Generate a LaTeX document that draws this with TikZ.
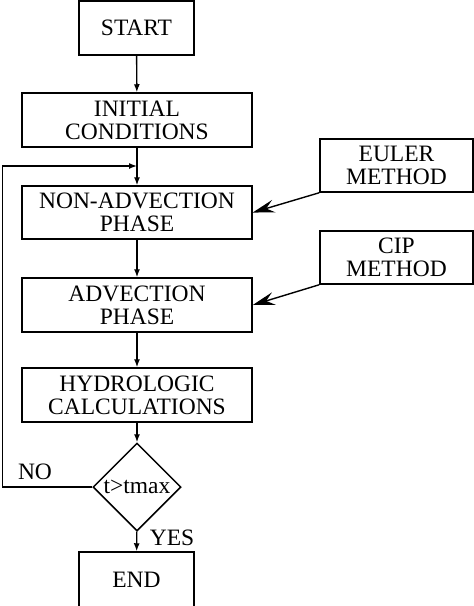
\documentclass[tikz,border=0pt]{standalone}
\usepackage{fontspec}
\setmainfont{Liberation Serif}
\usetikzlibrary{shapes.geometric,arrows.meta}

\begin{document}
\begin{tikzpicture}[x=1pt, y=-1pt, >={Latex[length=8pt,width=6pt]},
	box/.style={rectangle, draw=black, line width=1.5pt, align=center, inner sep=0pt, font=\fontsize{23.5}{23}\selectfont},
	decision/.style={diamond, draw=black, line width=1.5pt, inner sep=0pt, minimum width=88pt, minimum height=88pt, font=\fontsize{23.5}{23}\selectfont},
	flow/.style={black, line width=1.4pt}]

\useasboundingbox (0,0) rectangle (474,606);

\node at (136.5,28) [box, minimum width=115pt, minimum height=54pt] (start) {START};
\node at (137,120) [box, minimum width=230pt, minimum height=54pt] (init) {INITIAL\\CONDITIONS};
\node at (137,212.5) [box, minimum width=230pt, minimum height=53pt] (nonadv) {NON-ADVECTION\\PHASE};
\node at (137,305) [box, minimum width=230pt, minimum height=54pt] (adv) {ADVECTION\\PHASE};
\node at (137,395) [box, minimum width=230pt, minimum height=54pt] (hydro) {HYDROLOGIC\\CALCULATIONS};
\node at (137,487) [decision] (test) {t>tmax};
\node at (136.5,580) [box, minimum width=115pt, minimum height=56pt] (end) {END};

\node at (396.5,165.5) [box, minimum width=153pt, minimum height=53pt] (euler) {EULER\\METHOD};
\node at (396.5,257.5) [box, minimum width=153pt, minimum height=53pt] (cip) {CIP\\METHOD};

\coordinate (merge) at (137,166);

% main flow
\draw[flow, ->] (start) -- (init);
\draw[flow, ->] (init) -- (nonadv);
\draw[flow, ->] (nonadv) -- (adv);
\draw[flow, ->] (adv) -- (hydro);
\draw[flow, ->] (hydro) -- (test);
\draw[flow, ->] (test) -- (end);

% loop back
\draw[flow, ->] (test.west) -- ++(-90,0) |- (merge);
\node at (35,472) [font=\fontsize{23.5}{23}\selectfont] (nolabel) {NO};
\node at (172,538) [font=\fontsize{23.5}{23}\selectfont] (yeslabel) {YES};

\begin{scope}[>={Stealth[length=22pt,width=13pt,inset=8pt]}]
	\draw[flow, ->] (euler.south west) -- (nonadv.east);
	\draw[flow, ->] (cip.south west) -- (adv.east);
\end{scope}
\end{tikzpicture}
\end{document}
